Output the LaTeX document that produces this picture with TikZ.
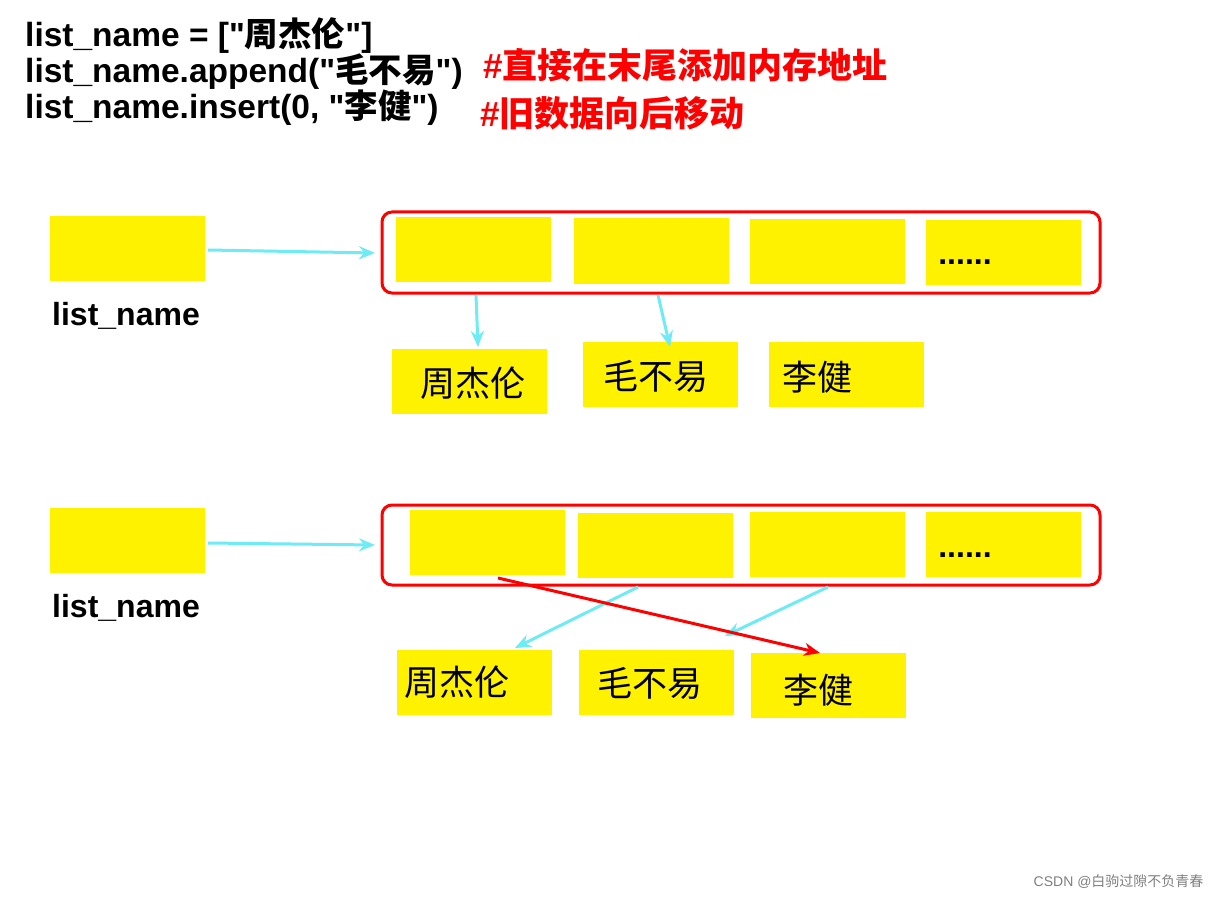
\documentclass[tikz,border=0pt]{standalone}
\usepackage{fontspec}
\setmainfont{Liberation Sans}
\newfontfamily\qf{Liberation Sans}
\newfontfamily\cjk{Noto Sans CJK SC}
\usetikzlibrary{arrows.meta}
\definecolor{acy}{RGB}{110,235,245}
\newcommand{\dq}{{\qf\bfseries"}}
\begin{document}
\begin{tikzpicture}[x=1pt,y=-1pt,
  yb/.style={fill=yellow,draw=none,minimum width=155pt,minimum height=65pt,inner sep=0pt},
  cy/.style={draw=acy,line width=3pt,-{Stealth[length=16pt,width=13pt]}},
  rd/.style={draw=red,line width=3pt,-{Stealth[length=16pt,width=13pt]}},
  frame/.style={draw=red,line width=3pt,rounded corners=10pt},
  code/.style={font=\fontsize{33.5}{38}\bfseries\selectfont,anchor=west,inner sep=0pt},
  big/.style={font=\fontsize{32}{36}\bfseries\selectfont,inner sep=0pt},
  cn/.style={font=\fontsize{35}{40}\cjk\selectfont,inner sep=0pt}]
\useasboundingbox (0,0) rectangle (1222,901);
\fill[white] (0,0) rectangle (1222,901);
\node[code] (c1) at (25,36) {list\_name = [\dq{\cjk 周杰伦}\dq]};
\node[code] (c2) at (25,72) {list\_name.append(\dq{\cjk 毛不易}\dq)};
\node[code] (c3) at (25,108) {list\_name.insert(0, \dq{\cjk 李健}\dq)};
\node[code,text=red,font=\fontsize{35}{40}\bfseries\selectfont] (r1) at (483,65) {\#{\cjk 直接在末尾添加内存地址}};
\node[code,text=red,font=\fontsize{35}{40}\bfseries\selectfont] (r2) at (480,113) {\#{\cjk 旧数据向后移动}};
% first
\node[yb] (v1) at (127.5,248.5) {};
\node[big,anchor=west] (l1) at (52,316) {list\_name};
\draw[frame] (382,212) rectangle (1100,293);
\coordinate (f1) at (375,253);
\node[yb] (a1) at (473.5,249.5) {};
\node[yb] (a2) at (651.5,251) {};
\node[yb] (a3) at (827.5,251.5) {};
\node[yb] (a4) at (1003.5,252.5) {};
\node[big] at (965,262) {......};
\draw[cy] (208,250) -- (f1);
\node[yb] (b1) at (469.5,381.5) {}; \node[cn] at (473,383) {周杰伦};
\node[yb] (b2) at (660.5,374.5) {}; \node[cn] at (656,376) {毛不易};
\node[yb] (b3) at (846.5,374.5) {}; \node[cn] at (817,377) {李健};
\draw[cy] (476,295) -- (478,347);
\draw[cy] (658,295) -- (670,347);
% second
\node[yb] (v2) at (127.5,540.5) {};
\node[big,anchor=west] (l2) at (52,608) {list\_name};
\draw[frame] (382,505) rectangle (1100,585);
\coordinate (f2) at (375,545);
\node[yb] (d1) at (487.5,542.5) {};
\node[yb] (d2) at (655.5,545) {};
\node[yb] (d3) at (827.5,544.5) {};
\node[yb] (d4) at (1003.5,544.5) {};
\node[big] at (965,555) {......};
\draw[cy] (208,543) -- (f2);
\node[yb] (e1) at (474.5,682.5) {}; \node[cn] at (457,682) {周杰伦};
\node[yb] (e2) at (656.5,682.5) {}; \node[cn] at (650,683) {毛不易};
\node[yb] (e3) at (828.5,685.5) {}; \node[cn] at (818,690) {李健};
\draw[cy] (638,587) -- (515,648);
\draw[cy] (828,587) -- (725,636);
\draw[rd] (498,578) -- (820,653);
\node[font=\fontsize{14}{16}\selectfont,text=gray,anchor=east] (w) at (1207,882) {CSDN @{\cjk 白驹过隙不负青春}};
\end{tikzpicture}
\end{document}
